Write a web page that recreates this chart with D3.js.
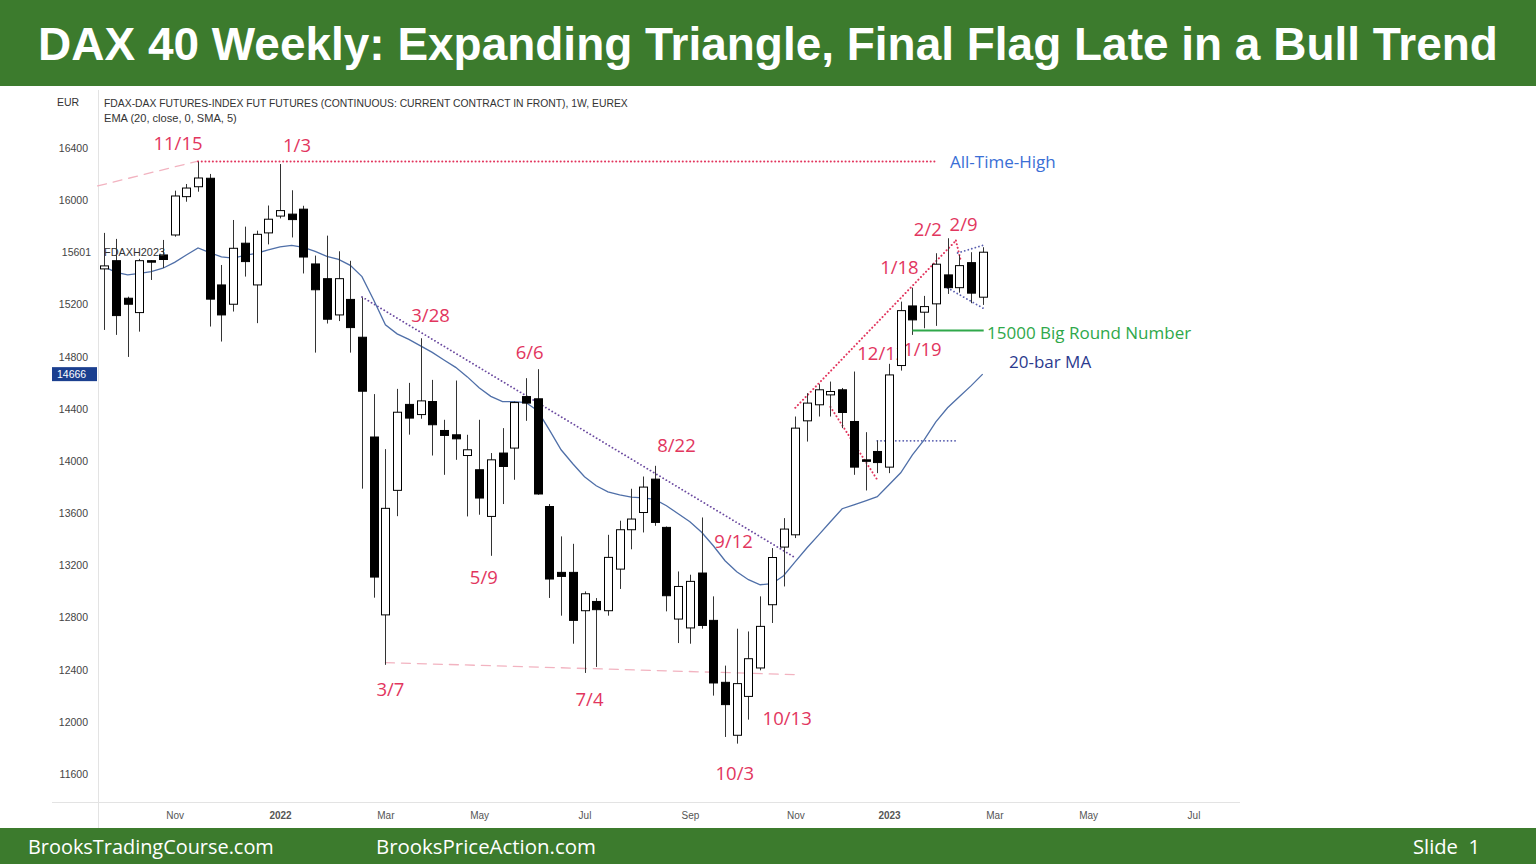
<!DOCTYPE html>
<html><head><meta charset="utf-8">
<script src="https://cdn.jsdelivr.net/npm/d3@7"></script>
<style>
html,body{margin:0;padding:0;background:#fff;}
svg{display:block;font-family:"Liberation Sans",Arial,sans-serif;}
</style></head>
<body>
<svg id="c" width="1536" height="864"></svg>
<script>
// ---------- DATA ----------
const weeks = [
"2021-09-20","2021-09-27","2021-10-04","2021-10-11","2021-10-18","2021-10-25","2021-11-01","2021-11-08","2021-11-15","2021-11-22","2021-11-29","2021-12-06","2021-12-13","2021-12-20","2021-12-27",
"2022-01-03","2022-01-10","2022-01-17","2022-01-24","2022-01-31","2022-02-07","2022-02-14","2022-02-21","2022-02-28","2022-03-07","2022-03-14","2022-03-21","2022-03-28","2022-04-04","2022-04-11","2022-04-18","2022-04-25","2022-05-02","2022-05-09","2022-05-16","2022-05-23","2022-05-30","2022-06-06","2022-06-13","2022-06-20","2022-06-27","2022-07-04","2022-07-11","2022-07-18","2022-07-25","2022-08-01","2022-08-08","2022-08-15","2022-08-22","2022-08-29","2022-09-05","2022-09-12","2022-09-19","2022-09-26","2022-10-03","2022-10-10","2022-10-17","2022-10-24","2022-10-31","2022-11-07","2022-11-14","2022-11-21","2022-11-28","2022-12-05","2022-12-12","2022-12-19","2022-12-26",
"2023-01-02","2023-01-09","2023-01-16","2023-01-23","2023-01-30","2023-02-06","2023-02-13","2023-02-20","2023-02-27"];
const openV = [15473,15536,15248,15138,15536,15580,15733,16027,16103,16168,15350,15202,15670,15350,15749,
15878,15893,15931,15511,15398,15120,15239,14949,14184,12820,13775,14434,14356,14456,14234,14201,14042,13933,13575,14061,14099,14494,14477,13651,13146,13146,12852,12923,12852,13171,13473,13605,13861,13491,12788,12720,13141,12778,12303,11897,12195,12413,12898,13340,13434,14308,14431,14507,14546,14303,14009,14073,
13953,14732,15189,15141,15205,15427,15329,15521,15256];
const highV = [15749,15703,15260,15550,15540,15695,16073,16124,16295,16201,15503,15848,15797,15766,15959,
16277,16076,15957,15575,15728,15608,15535,15253,14513,14091,14553,14599,14941,14622,14316,14617,14201,14316,14061,14252,14456,14635,14704,13670,13422,13365,13000,12949,13434,13542,13787,13881,13963,13498,13153,13128,13567,12962,12431,12714,12693,12962,13332,13562,14341,14520,14589,14609,14560,14686,14221,14157,
14745,15222,15329,15266,15593,15708,15580,15601,15639];
const lowV = [15005,14967,14798,14992,15388,15480,15720,15988,16065,15031,14916,15146,15414,15057,15661,
15860,15714,15438,14831,15054,15073,14831,13788,12952,12437,13577,14202,14324,14042,13894,14009,13575,13588,13273,13670,13856,14308,13741,12950,12814,12599,12375,12421,12814,13019,13323,13452,13503,12847,12604,12599,12714,12201,11884,11833,12017,12395,12758,13038,13409,14149,14341,14341,14252,13894,13774,13907,
13907,14693,14967,15018,15036,15281,15291,15210,15197];
const closeV = [15496,15115,15202,15536,15530,15545,16032,16093,16170,15241,15120,15631,15529,15738,15854,
15920,15851,15564,15313,15087,15398,15023,14535,13110,13637,14374,14329,14461,14278,14196,14170,14086,13716,14009,13958,14448,14444,13747,13095,13115,12778,12982,12860,13261,13473,13555,13800,13529,12967,13038,13077,12739,12298,12132,12293,12484,12732,13260,13478,14252,14444,14546,14533,14372,13953,14001,13988,
14660,15153,15082,15184,15509,15329,15498,15287,15601];
const maV = [15488,15446,15427,15438,15452,15478,15523,15580,15634,15598,15565,15555,15576,15593,15618,
15642,15654,15638,15607,15569,15546,15500,15414,15235,15044,14975,14933,14883,14833,14775,14718,14645,14561,14496,14456,14456,14448,14385,14239,14086,13979,13879,13810,13764,13741,13723,13718,13706,13657,13595,13534,13454,13350,13235,13151,13090,13051,13059,13120,13228,13335,13434,13534,13634,13664,13695,13726,
13818,13910,14047,14162,14300,14408,14492,14576,14666];

const yTicks = [16400,16000,15200,14800,14400,14000,13600,13200,12800,12400,12000,11600];
const xTickDates = ["2021-11-01","2022-01-03","2022-03-07","2022-05-02","2022-07-04","2022-09-05","2022-11-07","2023-01-02","2023-03-06","2023-05-01","2023-07-03"];
const xTickLabels = ["Nov","2022","Mar","May","Jul","Sep","Nov","2023","Mar","May","Jul"];
const boldTicks = ["2022","2023"];
const lastPrice = 15601;
const maLast = 14666;

const noteText  = ["11/15","1/3","3/28","6/6","8/22","9/12","5/9","3/7","7/4","10/13","10/3","12/12","1/19","1/18","2/2","2/9"];
const noteDate  = ["2021-11-15","2022-01-03","2022-03-28","2022-06-06","2022-08-22","2022-09-12","2022-05-09","2022-03-07","2022-07-04","2022-10-17","2022-10-03","2022-12-12","2023-01-16","2023-01-16","2023-01-30","2023-02-06"];
const notePrice = [16385,16369,15067,14783,14070,13335,13059,12201,12124,11979,11557,14775,14806,15434,15726,15764];

// ---------- LAYOUT ----------
const parse = d3.timeParse("%Y-%m-%d");
const svg = d3.select("#c");
const W = 1536, H = 864;

const x = d3.scaleTime()
  .domain([parse("2022-01-03"), parse("2023-01-02")])
  .range([280, 889]);
const y = d3.scaleLinear().domain([11600, 16400]).range([774, 148]);

function fit(sel, width){
  const l = sel.node().getComputedTextLength();
  const fs = +sel.attr("font-size");
  sel.attr("font-size", fs*width/l);
}

// title bar
svg.append("rect").attr("x",0).attr("y",0).attr("width",W).attr("height",86).attr("fill","#3c7b2d");
const title = svg.append("text").attr("x",768).attr("y",60).attr("text-anchor","middle")
  .attr("fill","#fff").attr("font-weight","bold").attr("font-size",44)
  .text("DAX 40 Weekly: Expanding Triangle, Final Flag Late in a Bull Trend");
fit(title, 1460);

// footer
svg.append("rect").attr("x",0).attr("y",828).attr("width",W).attr("height",36).attr("fill","#3c7b2d");
[["BrooksTradingCourse.com",28,246],["BrooksPriceAction.com",376,220],["Slide  1",1413,67]].forEach(d=>{
  const t = svg.append("text").attr("x",d[1]).attr("y",854).attr("fill","#fff").attr("font-size",20)
    .attr("font-family","'Open Sans','Liberation Sans',Arial,sans-serif").style("white-space","pre").text(d[0]);
  fit(t, d[2]);
});

// frame lines
svg.append("line").attr("x1",98.5).attr("x2",98.5).attr("y1",90).attr("y2",828).attr("stroke","#e3e3e3");
svg.append("line").attr("x1",52).attr("x2",1240).attr("y1",802.5).attr("y2",802.5).attr("stroke","#e3e3e3");

// header text
svg.append("text").attr("x",57).attr("y",106).attr("font-size",10.5).attr("fill","#333").text("EUR");
const h1 = svg.append("text").attr("x",104).attr("y",107).attr("font-size",10).attr("fill","#333")
  .text("FDAX-DAX FUTURES-INDEX FUT FUTURES (CONTINUOUS: CURRENT CONTRACT IN FRONT), 1W, EUREX");
fit(h1, 524);
const h2 = svg.append("text").attr("x",104).attr("y",122).attr("font-size",10).attr("fill","#333")
  .text("EMA (20, close, 0, SMA, 5)");
fit(h2, 133);

// y axis labels
const yAxis = d3.axisLeft(y).tickValues(yTicks).tickSize(0).tickFormat(d3.format("d"));
const ya = svg.append("g").attr("transform","translate(91,0)").call(yAxis);
ya.select(".domain").remove();
ya.selectAll("text").attr("font-size",10.5).attr("fill","#444").attr("font-family","'Liberation Sans',Arial,sans-serif");
svg.append("text").attr("x",91).attr("y",y(lastPrice)+4).attr("text-anchor","end")
  .attr("font-size",10.5).attr("fill","#444").text(d3.format("d")(lastPrice));
svg.append("rect").attr("x",52).attr("y",y(maLast)-7).attr("width",45).attr("height",14).attr("fill","#1b3f8f");
svg.append("text").attr("x",57).attr("y",y(maLast)+4).attr("font-size",10.5).attr("fill","#fff").text(maLast);

// x axis
const xAxis = d3.axisBottom(x).tickValues(xTickDates.map(parse)).tickSize(0)
  .tickFormat((d,i)=>xTickLabels[i]);
const xa = svg.append("g").attr("transform","translate(0,809)").call(xAxis);
xa.select(".domain").remove();
xa.selectAll("text").attr("font-size",10).attr("fill","#555").attr("font-family","'Liberation Sans',Arial,sans-serif")
  .attr("font-weight",(d,i)=>boldTicks.includes(xTickLabels[i])?"bold":"normal");

// annotations (text under candles)
const noteDx = {"11/15":-20,"1/3":17,"3/28":10,"6/6":-8,"8/22":10,"9/12":32,"5/9":-7,"3/7":5,"7/4":5,"10/13":27,"10/3":-2,"12/12":28,"1/19":10,"1/18":-13,"2/2":-8,"2/9":16};
const red = "#e2365e";
noteText.forEach((t,i)=>{
  svg.append("text").attr("x",x(parse(noteDate[i]))+noteDx[t]).attr("y",y(notePrice[i]))
    .attr("text-anchor","middle").attr("font-size",18.5).attr("fill",red)
    .attr("font-family","'Open Sans','Liberation Sans',Arial,sans-serif").text(t);
});

// helper lines in data coords
function seg(d1,p1,d2,p2,color,dash,w){
  svg.append("line").attr("x1",x(parse(d1))).attr("y1",y(p1)).attr("x2",x(parse(d2))).attr("y2",y(p2))
    .attr("stroke",color).attr("stroke-width",w||1.6).attr("stroke-dasharray",dash).attr("stroke-linecap","round");
}
const dot = "0.1 3.6";
seg("2021-09-16",16109,"2021-11-15",16300,"#f2b3c0","9 7",1.3);
seg("2021-11-15",16297,"2023-01-31",16297,red,dot,2);
seg("2022-03-07",12454,"2022-11-07",12362,"#f2b3c0","9 7",1.3);
seg("2022-02-21",15258,"2022-11-07",13258,"#6b4aa0",dot,1.8);
seg("2022-11-07",14408,"2023-02-11",15690,red,dot,2);
seg("2023-02-11",15690,"2023-02-14",15530,red,dot,2);
seg("2022-11-28",14415,"2022-12-26",13856,red,dot,2);
seg("2023-02-06",15327,"2023-02-28",15166,"#5a5fb0",dot,1.8);
seg("2023-02-12",15595,"2023-02-28",15657,"#5a5fb0",dot,1.8);
seg("2022-12-26",14155,"2023-02-12",14155,"#5a5fb0",dot,1.8);

// MA line
const dates = weeks.map(parse);
svg.append("path").datum(maV)
  .attr("d", d3.line().x((d,i)=>x(dates[i])).y(d=>y(d)).curve(d3.curveLinear))
  .attr("fill","none").attr("stroke","#4f6fa8").attr("stroke-width",1.3);

// candles
const bw = 8;
const cg = svg.append("g");
weeks.forEach((w,i)=>{
  const cx = Math.round(x(dates[i]))+0.5;
  cg.append("line").attr("x1",cx).attr("x2",cx).attr("y1",y(highV[i])).attr("y2",y(lowV[i]))
    .attr("stroke","#333").attr("stroke-width",1);
  const up = closeV[i] >= openV[i];
  const top = y(Math.max(openV[i],closeV[i])), bot = y(Math.min(openV[i],closeV[i]));
  cg.append("rect").attr("x",cx-bw/2).attr("y",top).attr("width",bw).attr("height",Math.max(1.5,bot-top))
    .attr("fill", up?"#fff":"#000").attr("stroke","#000").attr("stroke-width",1);
});

// green round number line
svg.append("line").attr("x1",x(parse("2023-01-16"))).attr("x2",x(parse("2023-02-27"))+1)
  .attr("y1",y(15000)).attr("y2",y(15000)).attr("stroke","#2fa84a").attr("stroke-width",2);

// text labels
svg.append("text").attr("x",950).attr("y",y(16297)+7).attr("font-size",17).attr("fill","#3a6fd6")
  .attr("font-family","'Open Sans','Liberation Sans',Arial,sans-serif").text("All-Time-High");
svg.append("text").attr("x",987).attr("y",y(15000)+8).attr("font-size",17).attr("fill","#2fa84a")
  .attr("font-family","'Open Sans','Liberation Sans',Arial,sans-serif").text("15000 Big Round Number");
svg.append("text").attr("x",1009).attr("y",368).attr("font-size",17).attr("fill","#2b3a8e")
  .attr("font-family","'Open Sans','Liberation Sans',Arial,sans-serif").text("20-bar MA");
const fx = svg.append("text").attr("x",104).attr("y",y(15601)+4).attr("font-size",10).attr("fill","#333").text("FDAXH2023");
fit(fx, 61);
</script>
</body></html>
